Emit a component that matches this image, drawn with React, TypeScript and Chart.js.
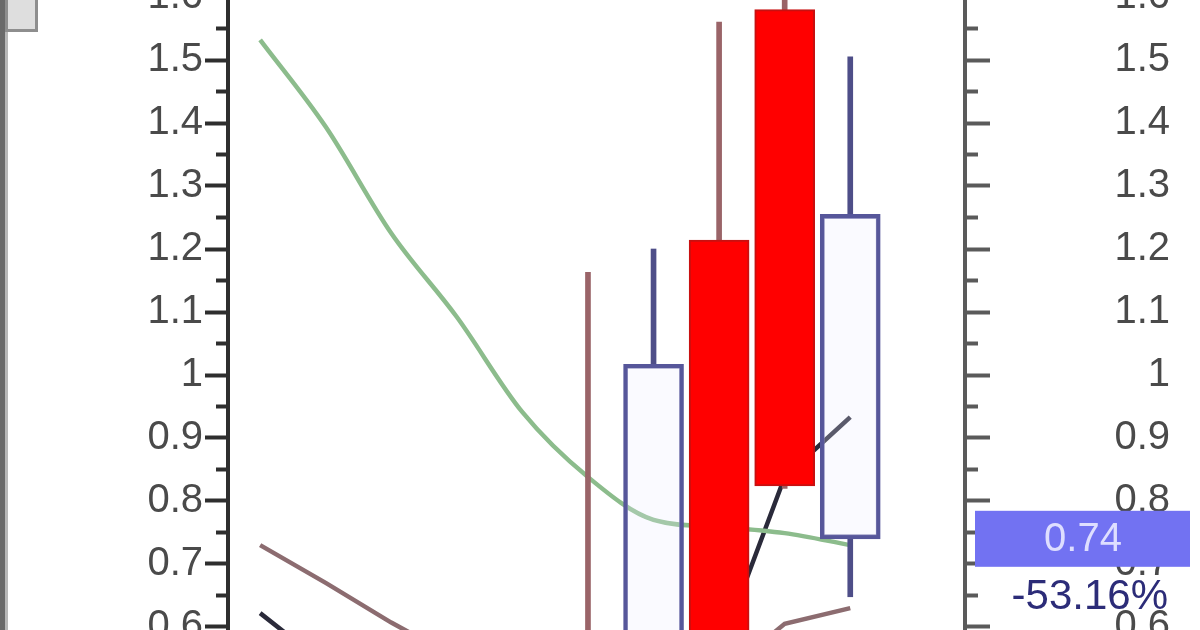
import React, { useEffect, useRef } from "react";
import { Chart, registerables } from "chart.js";

Chart.register(...registerables);

// ---- data ----
const categories = [0, 1, 2, 3, 4, 5, 6, 7, 8, 9];
const opens = [0.25, 0.22, 0.2, 0.18, 0.21, 0.45, 1.017, 0.52, 0.824, 1.255];
const closes = [0.23, 0.2, 0.17, 0.19, 0.265, 0.58, 0.55, 1.214, 1.58, 0.74];
const highs = [0.3, 0.26, 0.24, 0.22, 0.3, 1.163, 1.2, 1.56, 1.63, 1.505];
const lows = [0.2, 0.18, 0.15, 0.16, 0.2, 0.4, 0.5, 0.5, 0.82, 0.648];
const greenLine = [1.532, 1.394, 1.225, 1.092, 0.941, 0.838, 0.77, 0.759, 0.749, 0.73];
const brownLine = [0.73, 0.67, 0.607, 0.55, 0.5, 0.47, 0.47, 0.52, 0.605, 0.63];
const blackLine = [0.622, 0.54, 0.42, 0.35, 0.3, 0.33, 0.4, 0.56, 0.838, 0.933];
const yTickValues = [0.5, 0.6, 0.7, 0.8, 0.9, 1, 1.1, 1.2, 1.3, 1.4, 1.5, 1.6, 1.7];
const yMinorTicks = [0.55, 0.65, 0.75, 0.85, 0.95, 1.05, 1.15, 1.25, 1.35, 1.45, 1.55, 1.65];

const FONT = '"Liberation Sans", Arial, sans-serif';
const UP_FILL = "#ff0000";
const UP_BORDER = "#c81010";
const UP_WICK = "#9a6468";
const DOWN_BORDER = "#56569a";
const DOWN_WICK = "#4e4e88";
const LEFT_AXIS = "#2e2e2e";
const RIGHT_AXIS = "#5a5a5a";

const isUp = (i: number) => closes[i] >= opens[i];
const fmt = (v: number) => String(Math.round(v * 100) / 100);

const overlayPlugin = {
  id: "overlay",
  afterDraw(chart: any) {
    const ctx = chart.ctx as CanvasRenderingContext2D;
    const yL = chart.scales.y;
    const yR = chart.scales.y2;
    ctx.save();
    ctx.lineWidth = 4;
    yMinorTicks.forEach((v) => {
      const py = yL.getPixelForValue(v);
      ctx.strokeStyle = LEFT_AXIS;
      ctx.beginPath();
      ctx.moveTo(yL.right - 12, py);
      ctx.lineTo(yL.right, py);
      ctx.stroke();
      ctx.strokeStyle = RIGHT_AXIS;
      ctx.beginPath();
      ctx.moveTo(yR.left, py);
      ctx.lineTo(yR.left + 13, py);
      ctx.stroke();
    });
    const last = closes[closes.length - 1];
    const prev = closes[closes.length - 2];
    const py = yR.getPixelForValue(last);
    ctx.fillStyle = "#7272f2";
    ctx.fillRect(yR.left + 10, py - 28, 215, 56);
    ctx.font = `40px ${FONT}`;
    ctx.textAlign = "center";
    ctx.textBaseline = "middle";
    ctx.fillStyle = "#dedeff";
    ctx.fillText(last.toFixed(2), yR.left + 118, py + 1);
    ctx.fillStyle = "#2c2c78";
    ctx.textAlign = "right";
    ctx.font = `42px ${FONT}`;
    ctx.fillText(`${((last / prev - 1) * 100).toFixed(2)}%`, yR.right - 2, py + 59);
    ctx.restore();
  },
};

export default function App() {
  const ref = useRef<HTMLCanvasElement | null>(null);

  useEffect(() => {
    if (!ref.current) return;
    const upIdx = categories.filter((i) => isUp(i));
    const downIdx = categories.filter((i) => !isUp(i));

    const yAxisCommon = (side: "left" | "right") => ({
      type: "linear" as const,
      position: side,
      min: 0.1,
      max: 1.8,
      afterBuildTicks: (s: any) => {
        s.ticks = yTickValues.map((value) => ({ value }));
      },
      afterFit: (s: any) => {
        s.width = side === "left" ? 228 : 205;
      },
      grid: {
        drawOnChartArea: false,
        drawTicks: true,
        tickLength: side === "left" ? 23 : 25,
        tickWidth: 4,
        tickColor: side === "left" ? LEFT_AXIS : RIGHT_AXIS,
      },
      border: { display: true, color: side === "left" ? LEFT_AXIS : RIGHT_AXIS, width: 4 },
      ticks: {
        padding: 2,
        crossAlign: side === "left" ? ("near" as const) : ("far" as const),
        font: { family: FONT, size: 40 },
        color: "#4a4a4a",
        callback: (v: any) => fmt(Number(v)),
      },
    });

    const chart = new Chart(ref.current, {
      type: "bar",
      data: {
        datasets: [
          {
            type: "bar",
            label: "up",
            data: upIdx.map((i) => ({ x: i, y: [opens[i], closes[i]] })) as any,
            backgroundColor: UP_FILL,
            borderColor: UP_BORDER,
            borderWidth: 2,
            borderSkipped: false,
            barThickness: 60,
            grouped: false,
            order: 0,
          },
          {
            type: "bar",
            label: "down",
            data: downIdx.map((i) => ({ x: i, y: [opens[i], closes[i]] })) as any,
            backgroundColor: "rgba(235,235,255,0.25)",
            borderColor: DOWN_BORDER,
            borderWidth: 4,
            borderSkipped: false,
            barThickness: 60,
            grouped: false,
            order: 0,
          },
          {
            type: "bar",
            label: "upper wick",
            data: categories.map((i) => ({ x: i, y: [Math.max(opens[i], closes[i]), highs[i]] })) as any,
            backgroundColor: (c: any) => (isUp(c.dataIndex) ? UP_WICK : DOWN_WICK),
            borderWidth: 0,
            barThickness: 5,
            grouped: false,
            order: 1,
          },
          {
            type: "bar",
            label: "lower wick",
            data: categories.map((i) => ({ x: i, y: [lows[i], Math.min(opens[i], closes[i])] })) as any,
            backgroundColor: (c: any) => (isUp(c.dataIndex) ? UP_WICK : DOWN_WICK),
            borderWidth: 0,
            barThickness: 5,
            grouped: false,
            order: 1,
          },
          {
            type: "line",
            label: "green",
            data: categories.map((i) => ({ x: i, y: greenLine[i] })),
            borderColor: "#8cbc8c",
            borderWidth: 4.5,
            pointRadius: 0,
            cubicInterpolationMode: "monotone",
            order: 2,
          },
          {
            type: "line",
            label: "brown",
            data: categories.map((i) => ({ x: i, y: brownLine[i] })),
            borderColor: "#8c6c70",
            borderWidth: 4.5,
            pointRadius: 0,
            tension: 0,
            order: 2,
          },
          {
            type: "line",
            label: "black",
            data: categories.map((i) => ({ x: i, y: blackLine[i] })),
            borderColor: "#2a2a3a",
            borderWidth: 4.5,
            pointRadius: 0,
            tension: 0,
            order: 2,
          },
        ],
      },
      options: {
        animation: false,
        responsive: false,
        layout: { padding: { top: 30, bottom: 30, left: 0, right: 30 } },
        plugins: { legend: { display: false }, tooltip: { enabled: false } },
        scales: {
          x: { type: "linear", min: -0.49, max: 10.75, offset: false, display: false },
          y: yAxisCommon("left") as any,
          y2: yAxisCommon("right") as any,
        },
      },
      plugins: [overlayPlugin],
    });
    return () => chart.destroy();
  }, []);

  return (
    <div
      style={{
        position: "fixed",
        left: 0,
        top: 0,
        width: 1200,
        height: 630,
        overflow: "hidden",
        background: "#ffffff",
      }}
    >
      <canvas
        ref={ref}
        width={1200}
        height={1131}
        style={{ position: "absolute", left: 0, top: -159, width: 1200, height: 1131 }}
      />
      <div style={{ position: "absolute", left: 0, top: 0, width: 5, height: 630, background: "#6a6a6a" }} />
      <div style={{ position: "absolute", left: 5, top: 0, width: 3, height: 630, background: "#b8b8b8" }} />
      <div
        style={{
          position: "absolute",
          left: 5,
          top: -4,
          width: 27,
          height: 33,
          background: "#dedede",
          border: "3px solid #8e8e8e",
          borderTop: "none",
        }}
      />
    </div>
  );
}
